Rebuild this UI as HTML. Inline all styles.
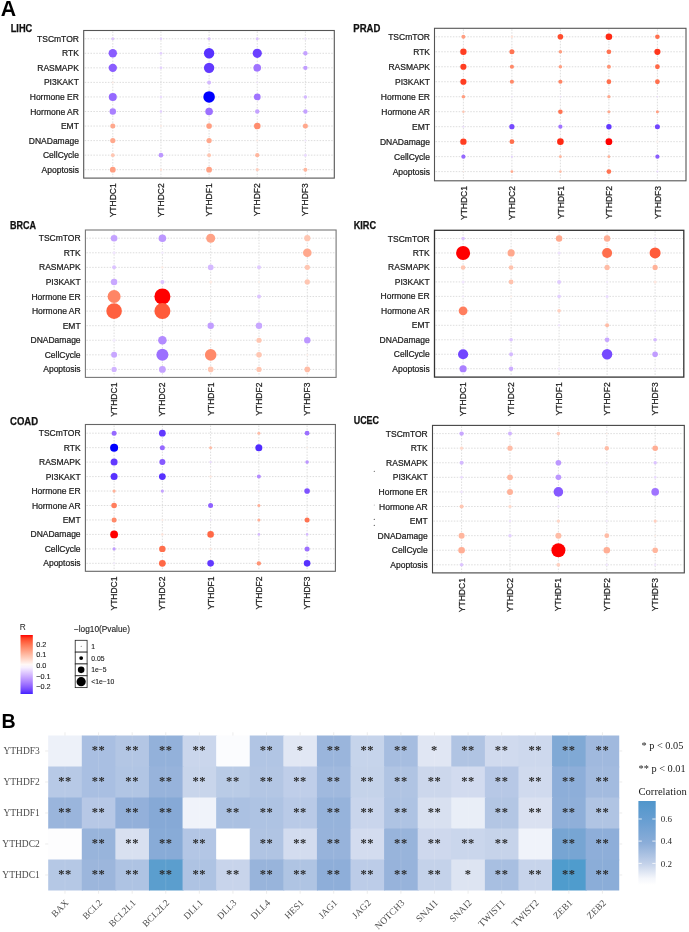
<!DOCTYPE html>
<html><head><meta charset="utf-8"><style>
html,body{margin:0;padding:0;background:#fff;width:689px;height:932px;overflow:hidden}
</style></head><body>
<svg width="689" height="932" viewBox="0 0 689 932" style="display:block;will-change:transform">
<rect width="689" height="932" fill="#fff"/>
<text x="0.8" y="15.5" font-family='"Liberation Sans", sans-serif' font-weight="bold" font-size="21.3" fill="#000">A</text>
<text x="1.5" y="727.5" font-family='"Liberation Sans", sans-serif' font-weight="bold" font-size="19.6" fill="#000">B</text>
<text x="10.7" y="32.2" font-family='"Liberation Sans", sans-serif' font-weight="bold" font-size="10.4" textLength="21.6" lengthAdjust="spacingAndGlyphs" fill="#111" stroke="#111" stroke-width="0.25">LIHC</text>
<path d="M84.7 38.75H333.3M84.7 53.30H333.3M84.7 67.85H333.3M84.7 82.40H333.3M84.7 96.95H333.3M84.7 111.50H333.3M84.7 126.05H333.3M84.7 140.60H333.3M84.7 155.15H333.3M84.7 169.70H333.3M112.80 31.5V177.1M160.95 31.5V177.1M209.10 31.5V177.1M257.25 31.5V177.1M305.40 31.5V177.1" stroke="#d9d9d9" stroke-width="0.9" stroke-dasharray="1.5 1.4" fill="none"/>
<circle cx="112.80" cy="38.75" r="1.5" fill="#dcc4ff"/>
<circle cx="160.95" cy="38.75" r="1.3" fill="#e3d0ff"/>
<circle cx="209.10" cy="38.75" r="1.5" fill="#dcc4ff"/>
<circle cx="257.25" cy="38.75" r="1.5" fill="#dcc4ff"/>
<circle cx="305.40" cy="38.75" r="1.2" fill="#efe3ff"/>
<circle cx="112.80" cy="53.30" r="4.2" fill="#8a5dff"/>
<circle cx="160.95" cy="53.30" r="1.4" fill="#e3d0ff"/>
<circle cx="209.10" cy="53.30" r="5.2" fill="#5731ff"/>
<circle cx="257.25" cy="53.30" r="4.6" fill="#6b40ff"/>
<circle cx="305.40" cy="53.30" r="2.2" fill="#c4a2ff"/>
<circle cx="112.80" cy="67.85" r="4.2" fill="#8a5dff"/>
<circle cx="160.95" cy="67.85" r="1.4" fill="#e3d0ff"/>
<circle cx="209.10" cy="67.85" r="5.2" fill="#6239ff"/>
<circle cx="257.25" cy="67.85" r="3.8" fill="#a074ff"/>
<circle cx="305.40" cy="67.85" r="2.2" fill="#c19dff"/>
<circle cx="112.80" cy="82.40" r="1.0" fill="#ffece5"/>
<circle cx="209.10" cy="82.40" r="2.0" fill="#d4b9ff"/>
<circle cx="257.25" cy="82.40" r="0.8" fill="#f2e7ff"/>
<circle cx="112.80" cy="96.95" r="4.0" fill="#9569ff"/>
<circle cx="160.95" cy="96.95" r="1.3" fill="#ebdcff"/>
<circle cx="209.10" cy="96.95" r="5.8" fill="#0000ff"/>
<circle cx="257.25" cy="96.95" r="3.4" fill="#a074ff"/>
<circle cx="305.40" cy="96.95" r="1.8" fill="#d4b9ff"/>
<circle cx="112.80" cy="111.50" r="3.2" fill="#aa80ff"/>
<circle cx="160.95" cy="111.50" r="1.3" fill="#e3d0ff"/>
<circle cx="209.10" cy="111.50" r="3.8" fill="#9c70ff"/>
<circle cx="257.25" cy="111.50" r="2.2" fill="#c4a2ff"/>
<circle cx="305.40" cy="111.50" r="2.2" fill="#c4a2ff"/>
<circle cx="112.80" cy="126.05" r="2.5" fill="#ffa88d"/>
<circle cx="160.95" cy="126.05" r="1.0" fill="#ffece5"/>
<circle cx="209.10" cy="126.05" r="2.8" fill="#ff9e81"/>
<circle cx="257.25" cy="126.05" r="3.3" fill="#ff8d6e"/>
<circle cx="305.40" cy="126.05" r="2.5" fill="#ffa88d"/>
<circle cx="112.80" cy="140.60" r="2.6" fill="#ffa88d"/>
<circle cx="209.10" cy="140.60" r="2.6" fill="#ffa88d"/>
<circle cx="257.25" cy="140.60" r="1.0" fill="#ffece5"/>
<circle cx="305.40" cy="140.60" r="1.0" fill="#f2e7ff"/>
<circle cx="112.80" cy="155.15" r="1.9" fill="#ffc6b2"/>
<circle cx="160.95" cy="155.15" r="2.3" fill="#bc97ff"/>
<circle cx="209.10" cy="155.15" r="1.9" fill="#ffc6b2"/>
<circle cx="257.25" cy="155.15" r="2.1" fill="#ffb69e"/>
<circle cx="305.40" cy="155.15" r="1.5" fill="#ebdcff"/>
<circle cx="112.80" cy="169.70" r="2.9" fill="#ff9e81"/>
<circle cx="160.95" cy="169.70" r="1.2" fill="#ffe2d8"/>
<circle cx="209.10" cy="169.70" r="2.9" fill="#ffa286"/>
<circle cx="257.25" cy="169.70" r="1.6" fill="#ffcfbf"/>
<circle cx="305.40" cy="169.70" r="2.0" fill="#ffb69e"/>
<rect x="83.7" y="30.5" width="250.60" height="147.60" fill="none" stroke="#555" stroke-width="1.1"/>
<text x="78.90" y="41.80" text-anchor="end" font-family='"Liberation Sans", sans-serif' font-size="8.5" fill="#1a1a1a" stroke="#1a1a1a" stroke-width="0.22">TSCmTOR</text>
<text x="78.90" y="56.35" text-anchor="end" font-family='"Liberation Sans", sans-serif' font-size="8.5" fill="#1a1a1a" stroke="#1a1a1a" stroke-width="0.22">RTK</text>
<text x="78.90" y="70.90" text-anchor="end" font-family='"Liberation Sans", sans-serif' font-size="8.5" fill="#1a1a1a" stroke="#1a1a1a" stroke-width="0.22">RASMAPK</text>
<text x="78.90" y="85.45" text-anchor="end" font-family='"Liberation Sans", sans-serif' font-size="8.5" fill="#1a1a1a" stroke="#1a1a1a" stroke-width="0.22">PI3KAKT</text>
<text x="78.90" y="100.00" text-anchor="end" font-family='"Liberation Sans", sans-serif' font-size="8.5" fill="#1a1a1a" stroke="#1a1a1a" stroke-width="0.22">Hormone ER</text>
<text x="78.90" y="114.55" text-anchor="end" font-family='"Liberation Sans", sans-serif' font-size="8.5" fill="#1a1a1a" stroke="#1a1a1a" stroke-width="0.22">Hormone AR</text>
<text x="78.90" y="129.10" text-anchor="end" font-family='"Liberation Sans", sans-serif' font-size="8.5" fill="#1a1a1a" stroke="#1a1a1a" stroke-width="0.22">EMT</text>
<text x="78.90" y="143.65" text-anchor="end" font-family='"Liberation Sans", sans-serif' font-size="8.5" fill="#1a1a1a" stroke="#1a1a1a" stroke-width="0.22">DNADamage</text>
<text x="78.90" y="158.20" text-anchor="end" font-family='"Liberation Sans", sans-serif' font-size="8.5" fill="#1a1a1a" stroke="#1a1a1a" stroke-width="0.22">CellCycle</text>
<text x="78.90" y="172.75" text-anchor="end" font-family='"Liberation Sans", sans-serif' font-size="8.5" fill="#1a1a1a" stroke="#1a1a1a" stroke-width="0.22">Apoptosis</text>
<text x="115.90" y="183.30" text-anchor="end" transform="rotate(-90 115.90 183.30)" font-family='"Liberation Sans", sans-serif' font-size="8.5" fill="#1a1a1a" stroke="#1a1a1a" stroke-width="0.22">YTHDC1</text>
<text x="164.05" y="183.30" text-anchor="end" transform="rotate(-90 164.05 183.30)" font-family='"Liberation Sans", sans-serif' font-size="8.5" fill="#1a1a1a" stroke="#1a1a1a" stroke-width="0.22">YTHDC2</text>
<text x="212.20" y="183.30" text-anchor="end" transform="rotate(-90 212.20 183.30)" font-family='"Liberation Sans", sans-serif' font-size="8.5" fill="#1a1a1a" stroke="#1a1a1a" stroke-width="0.22">YTHDF1</text>
<text x="260.35" y="183.30" text-anchor="end" transform="rotate(-90 260.35 183.30)" font-family='"Liberation Sans", sans-serif' font-size="8.5" fill="#1a1a1a" stroke="#1a1a1a" stroke-width="0.22">YTHDF2</text>
<text x="308.50" y="183.30" text-anchor="end" transform="rotate(-90 308.50 183.30)" font-family='"Liberation Sans", sans-serif' font-size="8.5" fill="#1a1a1a" stroke="#1a1a1a" stroke-width="0.22">YTHDF3</text>
<text x="353.3" y="32.1" font-family='"Liberation Sans", sans-serif' font-weight="bold" font-size="10.4" textLength="27.1" lengthAdjust="spacingAndGlyphs" fill="#111" stroke="#111" stroke-width="0.25">PRAD</text>
<path d="M435.5 36.80H685.0M435.5 51.78H685.0M435.5 66.76H685.0M435.5 81.74H685.0M435.5 96.72H685.0M435.5 111.70H685.0M435.5 126.68H685.0M435.5 141.66H685.0M435.5 156.64H685.0M435.5 171.62H685.0M463.40 29.3V179.8M511.90 29.3V179.8M560.40 29.3V179.8M608.90 29.3V179.8M657.40 29.3V179.8" stroke="#d9d9d9" stroke-width="0.9" stroke-dasharray="1.5 1.4" fill="none"/>
<circle cx="463.40" cy="36.80" r="2.0" fill="#ff9e81"/>
<circle cx="511.90" cy="36.80" r="1.2" fill="#ffe2d8"/>
<circle cx="560.40" cy="36.80" r="2.8" fill="#ff4d2e"/>
<circle cx="608.90" cy="36.80" r="3.3" fill="#ff2913"/>
<circle cx="657.40" cy="36.80" r="2.3" fill="#ff6f4d"/>
<circle cx="463.40" cy="51.78" r="3.2" fill="#ff3e22"/>
<circle cx="511.90" cy="51.78" r="2.5" fill="#ff7352"/>
<circle cx="560.40" cy="51.78" r="1.8" fill="#ff9e81"/>
<circle cx="608.90" cy="51.78" r="2.4" fill="#ff7352"/>
<circle cx="657.40" cy="51.78" r="3.1" fill="#ff361c"/>
<circle cx="463.40" cy="66.76" r="3.1" fill="#ff3e22"/>
<circle cx="511.90" cy="66.76" r="2.1" fill="#ff8969"/>
<circle cx="560.40" cy="66.76" r="1.8" fill="#ff9e81"/>
<circle cx="608.90" cy="66.76" r="2.0" fill="#ff9475"/>
<circle cx="657.40" cy="66.76" r="2.4" fill="#ff6846"/>
<circle cx="463.40" cy="81.74" r="3.1" fill="#ff3e22"/>
<circle cx="511.90" cy="81.74" r="2.1" fill="#ff8969"/>
<circle cx="560.40" cy="81.74" r="2.1" fill="#ff8565"/>
<circle cx="608.90" cy="81.74" r="2.4" fill="#ff6f4d"/>
<circle cx="657.40" cy="81.74" r="2.4" fill="#ff6f4d"/>
<circle cx="463.40" cy="96.72" r="1.8" fill="#ff9e81"/>
<circle cx="511.90" cy="96.72" r="0.8" fill="#f2e7ff"/>
<circle cx="560.40" cy="96.72" r="0.8" fill="#ebdcff"/>
<circle cx="608.90" cy="96.72" r="1.6" fill="#ffa88d"/>
<circle cx="657.40" cy="96.72" r="0.8" fill="#ebdcff"/>
<circle cx="463.40" cy="111.70" r="1.2" fill="#ffc6b2"/>
<circle cx="511.90" cy="111.70" r="0.8" fill="#f2e7ff"/>
<circle cx="560.40" cy="111.70" r="2.3" fill="#ff7352"/>
<circle cx="608.90" cy="111.70" r="1.5" fill="#ffa88d"/>
<circle cx="657.40" cy="111.70" r="1.5" fill="#ff9e81"/>
<circle cx="463.40" cy="126.68" r="1.0" fill="#ebdcff"/>
<circle cx="511.90" cy="126.68" r="2.6" fill="#764aff"/>
<circle cx="560.40" cy="126.68" r="2.1" fill="#a074ff"/>
<circle cx="608.90" cy="126.68" r="2.7" fill="#6239ff"/>
<circle cx="657.40" cy="126.68" r="2.5" fill="#7145ff"/>
<circle cx="463.40" cy="141.66" r="3.2" fill="#ff3e22"/>
<circle cx="511.90" cy="141.66" r="2.4" fill="#ff6f4d"/>
<circle cx="560.40" cy="141.66" r="3.3" fill="#ff2913"/>
<circle cx="608.90" cy="141.66" r="3.4" fill="#ff0000"/>
<circle cx="657.40" cy="141.66" r="1.2" fill="#fff5f2"/>
<circle cx="463.40" cy="156.64" r="2.1" fill="#9569ff"/>
<circle cx="511.90" cy="156.64" r="1.0" fill="#e3d0ff"/>
<circle cx="560.40" cy="156.64" r="1.4" fill="#ffb299"/>
<circle cx="608.90" cy="156.64" r="1.4" fill="#ffb299"/>
<circle cx="657.40" cy="156.64" r="2.1" fill="#8a5dff"/>
<circle cx="463.40" cy="171.62" r="0.7" fill="#ffece5"/>
<circle cx="511.90" cy="171.62" r="1.4" fill="#ffa88d"/>
<circle cx="560.40" cy="171.62" r="1.3" fill="#ffbca6"/>
<circle cx="608.90" cy="171.62" r="2.4" fill="#ff7352"/>
<circle cx="657.40" cy="171.62" r="1.0" fill="#ebdcff"/>
<rect x="434.5" y="28.3" width="251.50" height="152.50" fill="none" stroke="#555" stroke-width="1.1"/>
<text x="430.00" y="39.85" text-anchor="end" font-family='"Liberation Sans", sans-serif' font-size="8.5" fill="#1a1a1a" stroke="#1a1a1a" stroke-width="0.22">TSCmTOR</text>
<text x="430.00" y="54.83" text-anchor="end" font-family='"Liberation Sans", sans-serif' font-size="8.5" fill="#1a1a1a" stroke="#1a1a1a" stroke-width="0.22">RTK</text>
<text x="430.00" y="69.81" text-anchor="end" font-family='"Liberation Sans", sans-serif' font-size="8.5" fill="#1a1a1a" stroke="#1a1a1a" stroke-width="0.22">RASMAPK</text>
<text x="430.00" y="84.79" text-anchor="end" font-family='"Liberation Sans", sans-serif' font-size="8.5" fill="#1a1a1a" stroke="#1a1a1a" stroke-width="0.22">PI3KAKT</text>
<text x="430.00" y="99.77" text-anchor="end" font-family='"Liberation Sans", sans-serif' font-size="8.5" fill="#1a1a1a" stroke="#1a1a1a" stroke-width="0.22">Hormone ER</text>
<text x="430.00" y="114.75" text-anchor="end" font-family='"Liberation Sans", sans-serif' font-size="8.5" fill="#1a1a1a" stroke="#1a1a1a" stroke-width="0.22">Hormone AR</text>
<text x="430.00" y="129.73" text-anchor="end" font-family='"Liberation Sans", sans-serif' font-size="8.5" fill="#1a1a1a" stroke="#1a1a1a" stroke-width="0.22">EMT</text>
<text x="430.00" y="144.71" text-anchor="end" font-family='"Liberation Sans", sans-serif' font-size="8.5" fill="#1a1a1a" stroke="#1a1a1a" stroke-width="0.22">DNADamage</text>
<text x="430.00" y="159.69" text-anchor="end" font-family='"Liberation Sans", sans-serif' font-size="8.5" fill="#1a1a1a" stroke="#1a1a1a" stroke-width="0.22">CellCycle</text>
<text x="430.00" y="174.67" text-anchor="end" font-family='"Liberation Sans", sans-serif' font-size="8.5" fill="#1a1a1a" stroke="#1a1a1a" stroke-width="0.22">Apoptosis</text>
<text x="466.50" y="186.00" text-anchor="end" transform="rotate(-90 466.50 186.00)" font-family='"Liberation Sans", sans-serif' font-size="8.5" fill="#1a1a1a" stroke="#1a1a1a" stroke-width="0.22">YTHDC1</text>
<text x="515.00" y="186.00" text-anchor="end" transform="rotate(-90 515.00 186.00)" font-family='"Liberation Sans", sans-serif' font-size="8.5" fill="#1a1a1a" stroke="#1a1a1a" stroke-width="0.22">YTHDC2</text>
<text x="563.50" y="186.00" text-anchor="end" transform="rotate(-90 563.50 186.00)" font-family='"Liberation Sans", sans-serif' font-size="8.5" fill="#1a1a1a" stroke="#1a1a1a" stroke-width="0.22">YTHDF1</text>
<text x="612.00" y="186.00" text-anchor="end" transform="rotate(-90 612.00 186.00)" font-family='"Liberation Sans", sans-serif' font-size="8.5" fill="#1a1a1a" stroke="#1a1a1a" stroke-width="0.22">YTHDF2</text>
<text x="660.50" y="186.00" text-anchor="end" transform="rotate(-90 660.50 186.00)" font-family='"Liberation Sans", sans-serif' font-size="8.5" fill="#1a1a1a" stroke="#1a1a1a" stroke-width="0.22">YTHDF3</text>
<text x="10.0" y="229.0" font-family='"Liberation Sans", sans-serif' font-weight="bold" font-size="10.4" textLength="26.1" lengthAdjust="spacingAndGlyphs" fill="#111" stroke="#111" stroke-width="0.25">BRCA</text>
<path d="M86.4 238.20H335.1M86.4 252.78H335.1M86.4 267.36H335.1M86.4 281.94H335.1M86.4 296.52H335.1M86.4 311.10H335.1M86.4 325.68H335.1M86.4 340.26H335.1M86.4 354.84H335.1M86.4 369.42H335.1M114.10 231.0V376.4M162.40 231.0V376.4M210.70 231.0V376.4M259.00 231.0V376.4M307.30 231.0V376.4" stroke="#d9d9d9" stroke-width="0.9" stroke-dasharray="1.5 1.4" fill="none"/>
<circle cx="114.10" cy="238.20" r="3.3" fill="#c4a2ff"/>
<circle cx="162.40" cy="238.20" r="3.8" fill="#bc97ff"/>
<circle cx="210.70" cy="238.20" r="4.5" fill="#ffa286"/>
<circle cx="307.30" cy="238.20" r="3.1" fill="#ffc6b2"/>
<circle cx="114.10" cy="252.78" r="1.5" fill="#f2e7ff"/>
<circle cx="162.40" cy="252.78" r="1.3" fill="#f4ecff"/>
<circle cx="307.30" cy="252.78" r="4.3" fill="#ffa88d"/>
<circle cx="114.10" cy="267.36" r="2.0" fill="#dcc4ff"/>
<circle cx="162.40" cy="267.36" r="1.2" fill="#ffece5"/>
<circle cx="210.70" cy="267.36" r="2.9" fill="#d4b9ff"/>
<circle cx="259.00" cy="267.36" r="2.0" fill="#e0cbff"/>
<circle cx="307.30" cy="267.36" r="2.6" fill="#ffc6b2"/>
<circle cx="114.10" cy="281.94" r="3.2" fill="#c8a7ff"/>
<circle cx="162.40" cy="281.94" r="2.0" fill="#dcc4ff"/>
<circle cx="210.70" cy="281.94" r="1.5" fill="#ffece5"/>
<circle cx="259.00" cy="281.94" r="1.0" fill="#fff0ea"/>
<circle cx="307.30" cy="281.94" r="2.6" fill="#ffc6b2"/>
<circle cx="114.10" cy="296.52" r="6.5" fill="#ff8565"/>
<circle cx="162.40" cy="296.52" r="8.0" fill="#ff0000"/>
<circle cx="259.00" cy="296.52" r="2.0" fill="#dcc4ff"/>
<circle cx="114.10" cy="311.10" r="7.8" fill="#ff603f"/>
<circle cx="162.40" cy="311.10" r="8.0" fill="#ff5b3a"/>
<circle cx="210.70" cy="311.10" r="1.0" fill="#fff0ea"/>
<circle cx="259.00" cy="311.10" r="1.0" fill="#f2e7ff"/>
<circle cx="307.30" cy="311.10" r="0.8" fill="#f4ecff"/>
<circle cx="210.70" cy="325.68" r="3.2" fill="#c19dff"/>
<circle cx="259.00" cy="325.68" r="3.2" fill="#c8a7ff"/>
<circle cx="114.10" cy="340.26" r="1.5" fill="#f4ecff"/>
<circle cx="162.40" cy="340.26" r="4.3" fill="#b38bff"/>
<circle cx="210.70" cy="340.26" r="1.5" fill="#ffece5"/>
<circle cx="259.00" cy="340.26" r="2.6" fill="#ffc6b2"/>
<circle cx="307.30" cy="340.26" r="3.2" fill="#bc97ff"/>
<circle cx="114.10" cy="354.84" r="3.0" fill="#c8a7ff"/>
<circle cx="162.40" cy="354.84" r="6.0" fill="#9c70ff"/>
<circle cx="210.70" cy="354.84" r="5.8" fill="#ff8969"/>
<circle cx="259.00" cy="354.84" r="2.8" fill="#ffc6b2"/>
<circle cx="307.30" cy="354.84" r="1.0" fill="#fff0ea"/>
<circle cx="114.10" cy="369.42" r="2.6" fill="#d1b4ff"/>
<circle cx="162.40" cy="369.42" r="3.4" fill="#c4a2ff"/>
<circle cx="210.70" cy="369.42" r="2.8" fill="#ffc6b2"/>
<circle cx="259.00" cy="369.42" r="2.6" fill="#ffc6b2"/>
<circle cx="307.30" cy="369.42" r="2.8" fill="#ffbca6"/>
<rect x="85.4" y="230.0" width="250.70" height="147.40" fill="none" stroke="#777" stroke-width="1.1"/>
<text x="80.60" y="241.25" text-anchor="end" font-family='"Liberation Sans", sans-serif' font-size="8.5" fill="#1a1a1a" stroke="#1a1a1a" stroke-width="0.22">TSCmTOR</text>
<text x="80.60" y="255.83" text-anchor="end" font-family='"Liberation Sans", sans-serif' font-size="8.5" fill="#1a1a1a" stroke="#1a1a1a" stroke-width="0.22">RTK</text>
<text x="80.60" y="270.41" text-anchor="end" font-family='"Liberation Sans", sans-serif' font-size="8.5" fill="#1a1a1a" stroke="#1a1a1a" stroke-width="0.22">RASMAPK</text>
<text x="80.60" y="284.99" text-anchor="end" font-family='"Liberation Sans", sans-serif' font-size="8.5" fill="#1a1a1a" stroke="#1a1a1a" stroke-width="0.22">PI3KAKT</text>
<text x="80.60" y="299.57" text-anchor="end" font-family='"Liberation Sans", sans-serif' font-size="8.5" fill="#1a1a1a" stroke="#1a1a1a" stroke-width="0.22">Hormone ER</text>
<text x="80.60" y="314.15" text-anchor="end" font-family='"Liberation Sans", sans-serif' font-size="8.5" fill="#1a1a1a" stroke="#1a1a1a" stroke-width="0.22">Hormone AR</text>
<text x="80.60" y="328.73" text-anchor="end" font-family='"Liberation Sans", sans-serif' font-size="8.5" fill="#1a1a1a" stroke="#1a1a1a" stroke-width="0.22">EMT</text>
<text x="80.60" y="343.31" text-anchor="end" font-family='"Liberation Sans", sans-serif' font-size="8.5" fill="#1a1a1a" stroke="#1a1a1a" stroke-width="0.22">DNADamage</text>
<text x="80.60" y="357.89" text-anchor="end" font-family='"Liberation Sans", sans-serif' font-size="8.5" fill="#1a1a1a" stroke="#1a1a1a" stroke-width="0.22">CellCycle</text>
<text x="80.60" y="372.47" text-anchor="end" font-family='"Liberation Sans", sans-serif' font-size="8.5" fill="#1a1a1a" stroke="#1a1a1a" stroke-width="0.22">Apoptosis</text>
<text x="117.20" y="382.60" text-anchor="end" transform="rotate(-90 117.20 382.60)" font-family='"Liberation Sans", sans-serif' font-size="8.5" fill="#1a1a1a" stroke="#1a1a1a" stroke-width="0.22">YTHDC1</text>
<text x="165.50" y="382.60" text-anchor="end" transform="rotate(-90 165.50 382.60)" font-family='"Liberation Sans", sans-serif' font-size="8.5" fill="#1a1a1a" stroke="#1a1a1a" stroke-width="0.22">YTHDC2</text>
<text x="213.80" y="382.60" text-anchor="end" transform="rotate(-90 213.80 382.60)" font-family='"Liberation Sans", sans-serif' font-size="8.5" fill="#1a1a1a" stroke="#1a1a1a" stroke-width="0.22">YTHDF1</text>
<text x="262.10" y="382.60" text-anchor="end" transform="rotate(-90 262.10 382.60)" font-family='"Liberation Sans", sans-serif' font-size="8.5" fill="#1a1a1a" stroke="#1a1a1a" stroke-width="0.22">YTHDF2</text>
<text x="310.40" y="382.60" text-anchor="end" transform="rotate(-90 310.40 382.60)" font-family='"Liberation Sans", sans-serif' font-size="8.5" fill="#1a1a1a" stroke="#1a1a1a" stroke-width="0.22">YTHDF3</text>
<text x="353.7" y="228.9" font-family='"Liberation Sans", sans-serif' font-weight="bold" font-size="10.4" textLength="22.400000000000002" lengthAdjust="spacingAndGlyphs" fill="#111" stroke="#111" stroke-width="0.25">KIRC</text>
<path d="M435.5 238.50H682.8M435.5 252.97H682.8M435.5 267.44H682.8M435.5 281.91H682.8M435.5 296.38H682.8M435.5 310.85H682.8M435.5 325.32H682.8M435.5 339.79H682.8M435.5 354.26H682.8M435.5 368.73H682.8M463.10 231.3V376.1M511.10 231.3V376.1M559.10 231.3V376.1M607.10 231.3V376.1M655.10 231.3V376.1" stroke="#d9d9d9" stroke-width="0.9" stroke-dasharray="1.5 1.4" fill="none"/>
<circle cx="463.10" cy="238.50" r="1.8" fill="#dcc4ff"/>
<circle cx="511.10" cy="238.50" r="0.8" fill="#fff5f2"/>
<circle cx="559.10" cy="238.50" r="3.2" fill="#ffa88d"/>
<circle cx="607.10" cy="238.50" r="3.2" fill="#ffae95"/>
<circle cx="655.10" cy="238.50" r="1.0" fill="#f2e7ff"/>
<circle cx="463.10" cy="252.97" r="7.0" fill="#ff0000"/>
<circle cx="511.10" cy="252.97" r="3.6" fill="#ffa88d"/>
<circle cx="559.10" cy="252.97" r="1.5" fill="#efe3ff"/>
<circle cx="607.10" cy="252.97" r="5.0" fill="#ff6f4d"/>
<circle cx="655.10" cy="252.97" r="5.5" fill="#ff5b3a"/>
<circle cx="463.10" cy="267.44" r="2.3" fill="#ffc6b2"/>
<circle cx="511.10" cy="267.44" r="2.3" fill="#ffc2ad"/>
<circle cx="607.10" cy="267.44" r="2.6" fill="#ffbca6"/>
<circle cx="655.10" cy="267.44" r="2.6" fill="#ffb299"/>
<circle cx="463.10" cy="281.91" r="1.5" fill="#f2e7ff"/>
<circle cx="511.10" cy="281.91" r="2.4" fill="#ffc2ad"/>
<circle cx="559.10" cy="281.91" r="2.0" fill="#e0cbff"/>
<circle cx="607.10" cy="281.91" r="1.0" fill="#f4ecff"/>
<circle cx="655.10" cy="281.91" r="1.5" fill="#ffe8e0"/>
<circle cx="463.10" cy="296.38" r="1.0" fill="#f4ecff"/>
<circle cx="511.10" cy="296.38" r="1.0" fill="#fff0ea"/>
<circle cx="559.10" cy="296.38" r="1.8" fill="#e3d0ff"/>
<circle cx="607.10" cy="296.38" r="1.5" fill="#ebdcff"/>
<circle cx="463.10" cy="310.85" r="4.4" fill="#ff7e5e"/>
<circle cx="511.10" cy="310.85" r="1.0" fill="#fff4ef"/>
<circle cx="559.10" cy="310.85" r="1.8" fill="#ffcfbf"/>
<circle cx="607.10" cy="310.85" r="1.0" fill="#f4ecff"/>
<circle cx="655.10" cy="310.85" r="1.0" fill="#f4ecff"/>
<circle cx="559.10" cy="325.32" r="1.2" fill="#f2e7ff"/>
<circle cx="607.10" cy="325.32" r="2.0" fill="#ffbca6"/>
<circle cx="463.10" cy="339.79" r="1.2" fill="#f7f1ff"/>
<circle cx="511.10" cy="339.79" r="1.8" fill="#dcc4ff"/>
<circle cx="607.10" cy="339.79" r="2.4" fill="#c8a7ff"/>
<circle cx="655.10" cy="339.79" r="1.8" fill="#d4b9ff"/>
<circle cx="463.10" cy="354.26" r="5.1" fill="#7145ff"/>
<circle cx="511.10" cy="354.26" r="2.0" fill="#d4b9ff"/>
<circle cx="607.10" cy="354.26" r="5.2" fill="#764aff"/>
<circle cx="655.10" cy="354.26" r="2.8" fill="#c19dff"/>
<circle cx="463.10" cy="368.73" r="3.6" fill="#aa80ff"/>
<circle cx="511.10" cy="368.73" r="2.2" fill="#ccadff"/>
<circle cx="559.10" cy="368.73" r="1.2" fill="#f4ecff"/>
<circle cx="655.10" cy="368.73" r="1.0" fill="#f7f1ff"/>
<rect x="434.5" y="230.3" width="249.30" height="146.80" fill="none" stroke="#333" stroke-width="1.3"/>
<text x="429.70" y="241.55" text-anchor="end" font-family='"Liberation Sans", sans-serif' font-size="8.5" fill="#1a1a1a" stroke="#1a1a1a" stroke-width="0.22">TSCmTOR</text>
<text x="429.70" y="256.02" text-anchor="end" font-family='"Liberation Sans", sans-serif' font-size="8.5" fill="#1a1a1a" stroke="#1a1a1a" stroke-width="0.22">RTK</text>
<text x="429.70" y="270.49" text-anchor="end" font-family='"Liberation Sans", sans-serif' font-size="8.5" fill="#1a1a1a" stroke="#1a1a1a" stroke-width="0.22">RASMAPK</text>
<text x="429.70" y="284.96" text-anchor="end" font-family='"Liberation Sans", sans-serif' font-size="8.5" fill="#1a1a1a" stroke="#1a1a1a" stroke-width="0.22">PI3KAKT</text>
<text x="429.70" y="299.43" text-anchor="end" font-family='"Liberation Sans", sans-serif' font-size="8.5" fill="#1a1a1a" stroke="#1a1a1a" stroke-width="0.22">Hormone ER</text>
<text x="429.70" y="313.90" text-anchor="end" font-family='"Liberation Sans", sans-serif' font-size="8.5" fill="#1a1a1a" stroke="#1a1a1a" stroke-width="0.22">Hormone AR</text>
<text x="429.70" y="328.37" text-anchor="end" font-family='"Liberation Sans", sans-serif' font-size="8.5" fill="#1a1a1a" stroke="#1a1a1a" stroke-width="0.22">EMT</text>
<text x="429.70" y="342.84" text-anchor="end" font-family='"Liberation Sans", sans-serif' font-size="8.5" fill="#1a1a1a" stroke="#1a1a1a" stroke-width="0.22">DNADamage</text>
<text x="429.70" y="357.31" text-anchor="end" font-family='"Liberation Sans", sans-serif' font-size="8.5" fill="#1a1a1a" stroke="#1a1a1a" stroke-width="0.22">CellCycle</text>
<text x="429.70" y="371.78" text-anchor="end" font-family='"Liberation Sans", sans-serif' font-size="8.5" fill="#1a1a1a" stroke="#1a1a1a" stroke-width="0.22">Apoptosis</text>
<text x="466.20" y="382.30" text-anchor="end" transform="rotate(-90 466.20 382.30)" font-family='"Liberation Sans", sans-serif' font-size="8.5" fill="#1a1a1a" stroke="#1a1a1a" stroke-width="0.22">YTHDC1</text>
<text x="514.20" y="382.30" text-anchor="end" transform="rotate(-90 514.20 382.30)" font-family='"Liberation Sans", sans-serif' font-size="8.5" fill="#1a1a1a" stroke="#1a1a1a" stroke-width="0.22">YTHDC2</text>
<text x="562.20" y="382.30" text-anchor="end" transform="rotate(-90 562.20 382.30)" font-family='"Liberation Sans", sans-serif' font-size="8.5" fill="#1a1a1a" stroke="#1a1a1a" stroke-width="0.22">YTHDF1</text>
<text x="610.20" y="382.30" text-anchor="end" transform="rotate(-90 610.20 382.30)" font-family='"Liberation Sans", sans-serif' font-size="8.5" fill="#1a1a1a" stroke="#1a1a1a" stroke-width="0.22">YTHDF2</text>
<text x="658.20" y="382.30" text-anchor="end" transform="rotate(-90 658.20 382.30)" font-family='"Liberation Sans", sans-serif' font-size="8.5" fill="#1a1a1a" stroke="#1a1a1a" stroke-width="0.22">YTHDF3</text>
<text x="10.0" y="424.5" font-family='"Liberation Sans", sans-serif' font-weight="bold" font-size="10.4" textLength="28.1" lengthAdjust="spacingAndGlyphs" fill="#111" stroke="#111" stroke-width="0.25">COAD</text>
<path d="M86.4 433.20H334.4M86.4 447.66H334.4M86.4 462.12H334.4M86.4 476.58H334.4M86.4 491.04H334.4M86.4 505.50H334.4M86.4 519.96H334.4M86.4 534.42H334.4M86.4 548.88H334.4M86.4 563.34H334.4M114.10 425.5V570.3M162.35 425.5V570.3M210.60 425.5V570.3M258.85 425.5V570.3M307.10 425.5V570.3" stroke="#d9d9d9" stroke-width="0.9" stroke-dasharray="1.5 1.4" fill="none"/>
<circle cx="114.10" cy="433.20" r="2.5" fill="#9569ff"/>
<circle cx="162.35" cy="433.20" r="3.4" fill="#6239ff"/>
<circle cx="258.85" cy="433.20" r="1.5" fill="#ffbca6"/>
<circle cx="307.10" cy="433.20" r="2.4" fill="#9c70ff"/>
<circle cx="114.10" cy="447.66" r="4.0" fill="#0000ff"/>
<circle cx="162.35" cy="447.66" r="2.5" fill="#9569ff"/>
<circle cx="210.60" cy="447.66" r="1.5" fill="#ffbca6"/>
<circle cx="258.85" cy="447.66" r="3.5" fill="#502bff"/>
<circle cx="307.10" cy="447.66" r="0.8" fill="#fff0ea"/>
<circle cx="114.10" cy="462.12" r="3.5" fill="#6239ff"/>
<circle cx="162.35" cy="462.12" r="3.0" fill="#8659ff"/>
<circle cx="210.60" cy="462.12" r="1.2" fill="#ebdcff"/>
<circle cx="307.10" cy="462.12" r="1.8" fill="#bc97ff"/>
<circle cx="114.10" cy="476.58" r="3.5" fill="#5731ff"/>
<circle cx="162.35" cy="476.58" r="3.4" fill="#5731ff"/>
<circle cx="210.60" cy="476.58" r="1.2" fill="#ffe8e0"/>
<circle cx="258.85" cy="476.58" r="2.0" fill="#b38bff"/>
<circle cx="114.10" cy="491.04" r="1.6" fill="#ffb299"/>
<circle cx="162.35" cy="491.04" r="1.6" fill="#c4a2ff"/>
<circle cx="258.85" cy="491.04" r="1.0" fill="#ffece5"/>
<circle cx="307.10" cy="491.04" r="2.8" fill="#7e52ff"/>
<circle cx="114.10" cy="505.50" r="2.8" fill="#ff7e5e"/>
<circle cx="210.60" cy="505.50" r="2.5" fill="#8f62ff"/>
<circle cx="258.85" cy="505.50" r="1.5" fill="#ffae95"/>
<circle cx="114.10" cy="519.96" r="2.5" fill="#ff8969"/>
<circle cx="162.35" cy="519.96" r="1.0" fill="#ffece5"/>
<circle cx="210.60" cy="519.96" r="1.0" fill="#f2e7ff"/>
<circle cx="258.85" cy="519.96" r="1.5" fill="#ffae95"/>
<circle cx="307.10" cy="519.96" r="2.5" fill="#ff7352"/>
<circle cx="114.10" cy="534.42" r="3.9" fill="#ff0000"/>
<circle cx="162.35" cy="534.42" r="1.2" fill="#ffe2d8"/>
<circle cx="210.60" cy="534.42" r="3.3" fill="#ff6846"/>
<circle cx="258.85" cy="534.42" r="1.3" fill="#d4b9ff"/>
<circle cx="307.10" cy="534.42" r="1.3" fill="#d4b9ff"/>
<circle cx="114.10" cy="548.88" r="1.6" fill="#c19dff"/>
<circle cx="162.35" cy="548.88" r="3.2" fill="#ff6f4d"/>
<circle cx="210.60" cy="548.88" r="1.2" fill="#ffe8e0"/>
<circle cx="307.10" cy="548.88" r="2.5" fill="#9c70ff"/>
<circle cx="114.10" cy="563.34" r="1.0" fill="#f4ecff"/>
<circle cx="162.35" cy="563.34" r="3.4" fill="#ff6846"/>
<circle cx="210.60" cy="563.34" r="3.3" fill="#6239ff"/>
<circle cx="258.85" cy="563.34" r="2.2" fill="#ff9475"/>
<circle cx="307.10" cy="563.34" r="3.3" fill="#5731ff"/>
<rect x="85.4" y="424.5" width="250.00" height="146.80" fill="none" stroke="#666" stroke-width="1.1"/>
<text x="80.60" y="436.25" text-anchor="end" font-family='"Liberation Sans", sans-serif' font-size="8.5" fill="#1a1a1a" stroke="#1a1a1a" stroke-width="0.22">TSCmTOR</text>
<text x="80.60" y="450.71" text-anchor="end" font-family='"Liberation Sans", sans-serif' font-size="8.5" fill="#1a1a1a" stroke="#1a1a1a" stroke-width="0.22">RTK</text>
<text x="80.60" y="465.17" text-anchor="end" font-family='"Liberation Sans", sans-serif' font-size="8.5" fill="#1a1a1a" stroke="#1a1a1a" stroke-width="0.22">RASMAPK</text>
<text x="80.60" y="479.63" text-anchor="end" font-family='"Liberation Sans", sans-serif' font-size="8.5" fill="#1a1a1a" stroke="#1a1a1a" stroke-width="0.22">PI3KAKT</text>
<text x="80.60" y="494.09" text-anchor="end" font-family='"Liberation Sans", sans-serif' font-size="8.5" fill="#1a1a1a" stroke="#1a1a1a" stroke-width="0.22">Hormone ER</text>
<text x="80.60" y="508.55" text-anchor="end" font-family='"Liberation Sans", sans-serif' font-size="8.5" fill="#1a1a1a" stroke="#1a1a1a" stroke-width="0.22">Hormone AR</text>
<text x="80.60" y="523.01" text-anchor="end" font-family='"Liberation Sans", sans-serif' font-size="8.5" fill="#1a1a1a" stroke="#1a1a1a" stroke-width="0.22">EMT</text>
<text x="80.60" y="537.47" text-anchor="end" font-family='"Liberation Sans", sans-serif' font-size="8.5" fill="#1a1a1a" stroke="#1a1a1a" stroke-width="0.22">DNADamage</text>
<text x="80.60" y="551.93" text-anchor="end" font-family='"Liberation Sans", sans-serif' font-size="8.5" fill="#1a1a1a" stroke="#1a1a1a" stroke-width="0.22">CellCycle</text>
<text x="80.60" y="566.39" text-anchor="end" font-family='"Liberation Sans", sans-serif' font-size="8.5" fill="#1a1a1a" stroke="#1a1a1a" stroke-width="0.22">Apoptosis</text>
<text x="117.20" y="576.50" text-anchor="end" transform="rotate(-90 117.20 576.50)" font-family='"Liberation Sans", sans-serif' font-size="8.5" fill="#1a1a1a" stroke="#1a1a1a" stroke-width="0.22">YTHDC1</text>
<text x="165.45" y="576.50" text-anchor="end" transform="rotate(-90 165.45 576.50)" font-family='"Liberation Sans", sans-serif' font-size="8.5" fill="#1a1a1a" stroke="#1a1a1a" stroke-width="0.22">YTHDC2</text>
<text x="213.70" y="576.50" text-anchor="end" transform="rotate(-90 213.70 576.50)" font-family='"Liberation Sans", sans-serif' font-size="8.5" fill="#1a1a1a" stroke="#1a1a1a" stroke-width="0.22">YTHDF1</text>
<text x="261.95" y="576.50" text-anchor="end" transform="rotate(-90 261.95 576.50)" font-family='"Liberation Sans", sans-serif' font-size="8.5" fill="#1a1a1a" stroke="#1a1a1a" stroke-width="0.22">YTHDF2</text>
<text x="310.20" y="576.50" text-anchor="end" transform="rotate(-90 310.20 576.50)" font-family='"Liberation Sans", sans-serif' font-size="8.5" fill="#1a1a1a" stroke="#1a1a1a" stroke-width="0.22">YTHDF3</text>
<text x="353.7" y="424.2" font-family='"Liberation Sans", sans-serif' font-weight="bold" font-size="10.4" textLength="25.3" lengthAdjust="spacingAndGlyphs" fill="#111" stroke="#111" stroke-width="0.25">UCEC</text>
<path d="M433.5 433.60H683.3M433.5 448.18H683.3M433.5 462.76H683.3M433.5 477.34H683.3M433.5 491.92H683.3M433.5 506.50H683.3M433.5 521.08H683.3M433.5 535.66H683.3M433.5 550.24H683.3M433.5 564.82H683.3M461.60 426.4V571.9M510.00 426.4V571.9M558.40 426.4V571.9M606.80 426.4V571.9M655.20 426.4V571.9" stroke="#d9d9d9" stroke-width="0.9" stroke-dasharray="1.5 1.4" fill="none"/>
<circle cx="461.60" cy="433.60" r="2.2" fill="#c8a7ff"/>
<circle cx="510.00" cy="433.60" r="2.0" fill="#d1b4ff"/>
<circle cx="558.40" cy="433.60" r="1.8" fill="#ffc9b7"/>
<circle cx="606.80" cy="433.60" r="0.8" fill="#ffece5"/>
<circle cx="461.60" cy="448.18" r="1.6" fill="#ffd9cb"/>
<circle cx="510.00" cy="448.18" r="2.6" fill="#ffbca6"/>
<circle cx="606.80" cy="448.18" r="2.2" fill="#ffbca6"/>
<circle cx="655.20" cy="448.18" r="2.8" fill="#ffae95"/>
<circle cx="461.60" cy="462.76" r="2.0" fill="#d4b9ff"/>
<circle cx="558.40" cy="462.76" r="2.8" fill="#bc97ff"/>
<circle cx="606.80" cy="462.76" r="1.0" fill="#f2e7ff"/>
<circle cx="655.20" cy="462.76" r="1.7" fill="#dcc4ff"/>
<circle cx="461.60" cy="477.34" r="1.4" fill="#ebdcff"/>
<circle cx="510.00" cy="477.34" r="2.9" fill="#ffb69e"/>
<circle cx="558.40" cy="477.34" r="2.8" fill="#bc97ff"/>
<circle cx="655.20" cy="477.34" r="1.3" fill="#ebdcff"/>
<circle cx="461.60" cy="491.92" r="1.3" fill="#f2e7ff"/>
<circle cx="510.00" cy="491.92" r="3.0" fill="#ffb299"/>
<circle cx="558.40" cy="491.92" r="4.8" fill="#8659ff"/>
<circle cx="606.80" cy="491.92" r="1.0" fill="#f4ecff"/>
<circle cx="655.20" cy="491.92" r="3.8" fill="#a074ff"/>
<circle cx="461.60" cy="506.50" r="2.0" fill="#ffc6b2"/>
<circle cx="510.00" cy="506.50" r="1.6" fill="#ffd9cb"/>
<circle cx="558.40" cy="506.50" r="1.2" fill="#f2e7ff"/>
<circle cx="510.00" cy="521.08" r="1.2" fill="#efe3ff"/>
<circle cx="558.40" cy="521.08" r="1.7" fill="#ffd5c6"/>
<circle cx="606.80" cy="521.08" r="1.0" fill="#f4ecff"/>
<circle cx="655.20" cy="521.08" r="1.6" fill="#ffcfbf"/>
<circle cx="461.60" cy="535.66" r="3.0" fill="#ffb69e"/>
<circle cx="510.00" cy="535.66" r="1.7" fill="#e3d0ff"/>
<circle cx="558.40" cy="535.66" r="3.0" fill="#ffbca6"/>
<circle cx="606.80" cy="535.66" r="2.4" fill="#ffbca6"/>
<circle cx="655.20" cy="535.66" r="1.0" fill="#fff0ea"/>
<circle cx="461.60" cy="550.24" r="3.3" fill="#ffae95"/>
<circle cx="510.00" cy="550.24" r="1.0" fill="#f7f1ff"/>
<circle cx="558.40" cy="550.24" r="7.0" fill="#ff0000"/>
<circle cx="606.80" cy="550.24" r="3.3" fill="#ffae95"/>
<circle cx="655.20" cy="550.24" r="2.8" fill="#ffb69e"/>
<circle cx="461.60" cy="564.82" r="1.8" fill="#dcc4ff"/>
<circle cx="558.40" cy="564.82" r="1.9" fill="#ffcfbf"/>
<circle cx="606.80" cy="564.82" r="1.2" fill="#f2e7ff"/>
<circle cx="655.20" cy="564.82" r="1.2" fill="#f2e7ff"/>
<rect x="432.5" y="425.4" width="251.80" height="147.50" fill="none" stroke="#444" stroke-width="1.1"/>
<text x="427.70" y="436.65" text-anchor="end" font-family='"Liberation Sans", sans-serif' font-size="8.5" fill="#1a1a1a" stroke="#1a1a1a" stroke-width="0.22">TSCmTOR</text>
<text x="427.70" y="451.23" text-anchor="end" font-family='"Liberation Sans", sans-serif' font-size="8.5" fill="#1a1a1a" stroke="#1a1a1a" stroke-width="0.22">RTK</text>
<text x="427.70" y="465.81" text-anchor="end" font-family='"Liberation Sans", sans-serif' font-size="8.5" fill="#1a1a1a" stroke="#1a1a1a" stroke-width="0.22">RASMAPK</text>
<text x="427.70" y="480.39" text-anchor="end" font-family='"Liberation Sans", sans-serif' font-size="8.5" fill="#1a1a1a" stroke="#1a1a1a" stroke-width="0.22">PI3KAKT</text>
<text x="427.70" y="494.97" text-anchor="end" font-family='"Liberation Sans", sans-serif' font-size="8.5" fill="#1a1a1a" stroke="#1a1a1a" stroke-width="0.22">Hormone ER</text>
<text x="427.70" y="509.55" text-anchor="end" font-family='"Liberation Sans", sans-serif' font-size="8.5" fill="#1a1a1a" stroke="#1a1a1a" stroke-width="0.22">Hormone AR</text>
<text x="427.70" y="524.13" text-anchor="end" font-family='"Liberation Sans", sans-serif' font-size="8.5" fill="#1a1a1a" stroke="#1a1a1a" stroke-width="0.22">EMT</text>
<text x="427.70" y="538.71" text-anchor="end" font-family='"Liberation Sans", sans-serif' font-size="8.5" fill="#1a1a1a" stroke="#1a1a1a" stroke-width="0.22">DNADamage</text>
<text x="427.70" y="553.29" text-anchor="end" font-family='"Liberation Sans", sans-serif' font-size="8.5" fill="#1a1a1a" stroke="#1a1a1a" stroke-width="0.22">CellCycle</text>
<text x="427.70" y="567.87" text-anchor="end" font-family='"Liberation Sans", sans-serif' font-size="8.5" fill="#1a1a1a" stroke="#1a1a1a" stroke-width="0.22">Apoptosis</text>
<text x="464.70" y="578.10" text-anchor="end" transform="rotate(-90 464.70 578.10)" font-family='"Liberation Sans", sans-serif' font-size="8.5" fill="#1a1a1a" stroke="#1a1a1a" stroke-width="0.22">YTHDC1</text>
<text x="513.10" y="578.10" text-anchor="end" transform="rotate(-90 513.10 578.10)" font-family='"Liberation Sans", sans-serif' font-size="8.5" fill="#1a1a1a" stroke="#1a1a1a" stroke-width="0.22">YTHDC2</text>
<text x="561.50" y="578.10" text-anchor="end" transform="rotate(-90 561.50 578.10)" font-family='"Liberation Sans", sans-serif' font-size="8.5" fill="#1a1a1a" stroke="#1a1a1a" stroke-width="0.22">YTHDF1</text>
<text x="609.90" y="578.10" text-anchor="end" transform="rotate(-90 609.90 578.10)" font-family='"Liberation Sans", sans-serif' font-size="8.5" fill="#1a1a1a" stroke="#1a1a1a" stroke-width="0.22">YTHDF2</text>
<text x="658.30" y="578.10" text-anchor="end" transform="rotate(-90 658.30 578.10)" font-family='"Liberation Sans", sans-serif' font-size="8.5" fill="#1a1a1a" stroke="#1a1a1a" stroke-width="0.22">YTHDF3</text>
<circle cx="374.3" cy="471.3" r="0.6" fill="#333" fill-opacity="0.8"/>
<circle cx="374.3" cy="505.1" r="0.6" fill="#333" fill-opacity="0.35"/>
<circle cx="374.3" cy="519.4" r="0.6" fill="#333" fill-opacity="0.8"/>
<circle cx="374.3" cy="525.4" r="0.6" fill="#333" fill-opacity="0.8"/>
<defs><linearGradient id="gR" x1="0" y1="1" x2="0" y2="0">
<stop offset="0.000" stop-color="#4221ff"/>
<stop offset="0.050" stop-color="#673dff"/>
<stop offset="0.100" stop-color="#8154ff"/>
<stop offset="0.150" stop-color="#976bff"/>
<stop offset="0.200" stop-color="#ab81ff"/>
<stop offset="0.250" stop-color="#bc97ff"/>
<stop offset="0.300" stop-color="#ccadff"/>
<stop offset="0.350" stop-color="#dbc3ff"/>
<stop offset="0.400" stop-color="#e9daff"/>
<stop offset="0.450" stop-color="#f7f0ff"/>
<stop offset="0.500" stop-color="#fff8f6"/>
<stop offset="0.550" stop-color="#ffe6dd"/>
<stop offset="0.600" stop-color="#ffd3c4"/>
<stop offset="0.650" stop-color="#ffc1ac"/>
<stop offset="0.700" stop-color="#ffae94"/>
<stop offset="0.750" stop-color="#ff9a7d"/>
<stop offset="0.800" stop-color="#ff8666"/>
<stop offset="0.850" stop-color="#ff714f"/>
<stop offset="0.900" stop-color="#ff5939"/>
<stop offset="0.950" stop-color="#ff3c21"/>
<stop offset="1.000" stop-color="#ff0000"/>
</linearGradient>
<linearGradient id="gB" x1="0" y1="1" x2="0" y2="0">
<stop offset="0.000" stop-color="#ffffff"/>
<stop offset="0.080" stop-color="#f4f6fb"/>
<stop offset="0.250" stop-color="#c4d2ea"/>
<stop offset="0.500" stop-color="#8badd8"/>
<stop offset="0.750" stop-color="#6a9fd2"/>
<stop offset="1.000" stop-color="#5096cb"/>
</linearGradient></defs>
<text x="19.8" y="629.9" font-family='"Liberation Sans", sans-serif' font-size="8.4" fill="#222">R</text>
<rect x="20.5" y="635" width="12.3" height="59" fill="url(#gR)"/>
<text x="36.2" y="647.0" font-family='"Liberation Sans", sans-serif' font-size="7.3" fill="#222" stroke="#222" stroke-width="0.12">0.2</text>
<text x="36.2" y="657.3" font-family='"Liberation Sans", sans-serif' font-size="7.3" fill="#222" stroke="#222" stroke-width="0.12">0.1</text>
<text x="36.2" y="667.9" font-family='"Liberation Sans", sans-serif' font-size="7.3" fill="#222" stroke="#222" stroke-width="0.12">0.0</text>
<text x="36.2" y="678.6" font-family='"Liberation Sans", sans-serif' font-size="7.3" fill="#222" stroke="#222" stroke-width="0.12">−0.1</text>
<text x="36.2" y="689.2" font-family='"Liberation Sans", sans-serif' font-size="7.3" fill="#222" stroke="#222" stroke-width="0.12">−0.2</text>
<text x="73.9" y="632.1" font-family='"Liberation Sans", sans-serif' font-size="8.3" fill="#222" stroke="#222" stroke-width="0.12">−log10(Pvalue)</text>
<rect x="75.2" y="640.30" width="11.9" height="11.83" fill="#fff" stroke="#222" stroke-width="0.8"/>
<circle cx="81.15" cy="646.20" r="0.45" fill="#000"/>
<text x="91.3" y="648.80" font-family='"Liberation Sans", sans-serif' font-size="6.8" fill="#222" stroke="#222" stroke-width="0.12">1</text>
<rect x="75.2" y="652.13" width="11.9" height="11.83" fill="#fff" stroke="#222" stroke-width="0.8"/>
<circle cx="81.15" cy="658.03" r="1.9" fill="#000"/>
<text x="91.3" y="660.63" font-family='"Liberation Sans", sans-serif' font-size="6.8" fill="#222" stroke="#222" stroke-width="0.12">0.05</text>
<rect x="75.2" y="663.96" width="11.9" height="11.83" fill="#fff" stroke="#222" stroke-width="0.8"/>
<circle cx="81.15" cy="669.86" r="3.3" fill="#000"/>
<text x="91.3" y="672.46" font-family='"Liberation Sans", sans-serif' font-size="6.8" fill="#222" stroke="#222" stroke-width="0.12">1e−5</text>
<rect x="75.2" y="675.79" width="11.9" height="11.83" fill="#fff" stroke="#222" stroke-width="0.8"/>
<circle cx="81.15" cy="681.69" r="4.6" fill="#000"/>
<text x="91.3" y="684.29" font-family='"Liberation Sans", sans-serif' font-size="6.8" fill="#222" stroke="#222" stroke-width="0.12"><1e−10</text>
<rect x="48.20" y="735.50" width="34.59" height="32.00" fill="#edf1f9"/>
<rect x="81.79" y="735.50" width="34.59" height="32.00" fill="#a9bfe2"/>
<rect x="115.38" y="735.50" width="34.59" height="32.00" fill="#b3c6e4"/>
<rect x="148.97" y="735.50" width="34.59" height="32.00" fill="#93b1da"/>
<rect x="182.56" y="735.50" width="34.59" height="32.00" fill="#cad6ec"/>
<rect x="216.15" y="735.50" width="34.59" height="32.00" fill="#fbfcfe"/>
<rect x="249.74" y="735.50" width="34.59" height="32.00" fill="#b1c5e4"/>
<rect x="283.33" y="735.50" width="34.59" height="32.00" fill="#e1e7f4"/>
<rect x="316.92" y="735.50" width="34.59" height="32.00" fill="#9ab5dc"/>
<rect x="350.51" y="735.50" width="34.59" height="32.00" fill="#c6d4eb"/>
<rect x="384.10" y="735.50" width="34.59" height="32.00" fill="#a6bde0"/>
<rect x="417.69" y="735.50" width="34.59" height="32.00" fill="#e0e6f3"/>
<rect x="451.28" y="735.50" width="34.59" height="32.00" fill="#b0c4e3"/>
<rect x="484.87" y="735.50" width="34.59" height="32.00" fill="#d0daee"/>
<rect x="518.46" y="735.50" width="34.59" height="32.00" fill="#cdd8ed"/>
<rect x="552.05" y="735.50" width="34.59" height="32.00" fill="#80a9d5"/>
<rect x="585.64" y="735.50" width="33.59" height="32.00" fill="#a0b9de"/>
<rect x="48.20" y="766.50" width="34.59" height="32.00" fill="#b7c9e6"/>
<rect x="81.79" y="766.50" width="34.59" height="32.00" fill="#a9bfe2"/>
<rect x="115.38" y="766.50" width="34.59" height="32.00" fill="#b1c5e4"/>
<rect x="148.97" y="766.50" width="34.59" height="32.00" fill="#97b3db"/>
<rect x="182.56" y="766.50" width="34.59" height="32.00" fill="#c8d5eb"/>
<rect x="216.15" y="766.50" width="34.59" height="32.00" fill="#b9cbe6"/>
<rect x="249.74" y="766.50" width="34.59" height="32.00" fill="#b3c6e4"/>
<rect x="283.33" y="766.50" width="34.59" height="32.00" fill="#bfcee9"/>
<rect x="316.92" y="766.50" width="34.59" height="32.00" fill="#a0b9de"/>
<rect x="350.51" y="766.50" width="34.59" height="32.00" fill="#c5d3ea"/>
<rect x="384.10" y="766.50" width="34.59" height="32.00" fill="#b0c4e3"/>
<rect x="417.69" y="766.50" width="34.59" height="32.00" fill="#ccd7ec"/>
<rect x="451.28" y="766.50" width="34.59" height="32.00" fill="#d2dbef"/>
<rect x="484.87" y="766.50" width="34.59" height="32.00" fill="#b7c8e6"/>
<rect x="518.46" y="766.50" width="34.59" height="32.00" fill="#d0daee"/>
<rect x="552.05" y="766.50" width="34.59" height="32.00" fill="#8daed9"/>
<rect x="585.64" y="766.50" width="33.59" height="32.00" fill="#a3bbdf"/>
<rect x="48.20" y="797.50" width="34.59" height="32.00" fill="#9ab5dc"/>
<rect x="81.79" y="797.50" width="34.59" height="32.00" fill="#b7c8e6"/>
<rect x="115.38" y="797.50" width="34.59" height="32.00" fill="#93b0da"/>
<rect x="148.97" y="797.50" width="34.59" height="32.00" fill="#86a9d6"/>
<rect x="182.56" y="797.50" width="34.59" height="32.00" fill="#f0f3fa"/>
<rect x="216.15" y="797.50" width="34.59" height="32.00" fill="#abc1e2"/>
<rect x="249.74" y="797.50" width="34.59" height="32.00" fill="#aec3e3"/>
<rect x="283.33" y="797.50" width="34.59" height="32.00" fill="#b9cae7"/>
<rect x="316.92" y="797.50" width="34.59" height="32.00" fill="#96b3db"/>
<rect x="350.51" y="797.50" width="34.59" height="32.00" fill="#c9d5ec"/>
<rect x="384.10" y="797.50" width="34.59" height="32.00" fill="#aec3e3"/>
<rect x="417.69" y="797.50" width="34.59" height="32.00" fill="#d8e0f0"/>
<rect x="451.28" y="797.50" width="34.59" height="32.00" fill="#e9eef7"/>
<rect x="484.87" y="797.50" width="34.59" height="32.00" fill="#b3c6e4"/>
<rect x="518.46" y="797.50" width="34.59" height="32.00" fill="#dae1f1"/>
<rect x="552.05" y="797.50" width="34.59" height="32.00" fill="#8fafd9"/>
<rect x="585.64" y="797.50" width="33.59" height="32.00" fill="#b0c4e3"/>
<rect x="48.20" y="828.50" width="34.59" height="32.00" fill="#fdfdfe"/>
<rect x="81.79" y="828.50" width="34.59" height="32.00" fill="#98b4db"/>
<rect x="115.38" y="828.50" width="34.59" height="32.00" fill="#d8e0f0"/>
<rect x="148.97" y="828.50" width="34.59" height="32.00" fill="#88abd7"/>
<rect x="182.56" y="828.50" width="34.59" height="32.00" fill="#b3c6e5"/>
<rect x="216.15" y="828.50" width="34.59" height="32.00" fill="#ffffff"/>
<rect x="249.74" y="828.50" width="34.59" height="32.00" fill="#b0c4e3"/>
<rect x="283.33" y="828.50" width="34.59" height="32.00" fill="#d3dcef"/>
<rect x="316.92" y="828.50" width="34.59" height="32.00" fill="#97b3db"/>
<rect x="350.51" y="828.50" width="34.59" height="32.00" fill="#d3dcef"/>
<rect x="384.10" y="828.50" width="34.59" height="32.00" fill="#98b4db"/>
<rect x="417.69" y="828.50" width="34.59" height="32.00" fill="#ced8ed"/>
<rect x="451.28" y="828.50" width="34.59" height="32.00" fill="#cad6ec"/>
<rect x="484.87" y="828.50" width="34.59" height="32.00" fill="#c6d3ea"/>
<rect x="518.46" y="828.50" width="34.59" height="32.00" fill="#f0f3fa"/>
<rect x="552.05" y="828.50" width="34.59" height="32.00" fill="#77a5d3"/>
<rect x="585.64" y="828.50" width="33.59" height="32.00" fill="#8eaed9"/>
<rect x="48.20" y="859.50" width="34.59" height="31.00" fill="#b5c8e5"/>
<rect x="81.79" y="859.50" width="34.59" height="31.00" fill="#9cb6dc"/>
<rect x="115.38" y="859.50" width="34.59" height="31.00" fill="#aec3e3"/>
<rect x="148.97" y="859.50" width="34.59" height="31.00" fill="#5b9ece"/>
<rect x="182.56" y="859.50" width="34.59" height="31.00" fill="#aec3e3"/>
<rect x="216.15" y="859.50" width="34.59" height="31.00" fill="#c8d4eb"/>
<rect x="249.74" y="859.50" width="34.59" height="31.00" fill="#98b4db"/>
<rect x="283.33" y="859.50" width="34.59" height="31.00" fill="#afc4e3"/>
<rect x="316.92" y="859.50" width="34.59" height="31.00" fill="#8eaed9"/>
<rect x="350.51" y="859.50" width="34.59" height="31.00" fill="#bccce8"/>
<rect x="384.10" y="859.50" width="34.59" height="31.00" fill="#97b3db"/>
<rect x="417.69" y="859.50" width="34.59" height="31.00" fill="#c4d2ea"/>
<rect x="451.28" y="859.50" width="34.59" height="31.00" fill="#dde4f2"/>
<rect x="484.87" y="859.50" width="34.59" height="31.00" fill="#a8bfe1"/>
<rect x="518.46" y="859.50" width="34.59" height="31.00" fill="#c7d4eb"/>
<rect x="552.05" y="859.50" width="34.59" height="31.00" fill="#4f9ccd"/>
<rect x="585.64" y="859.50" width="33.59" height="31.00" fill="#8badd8"/>
<path d="M65.00 732.5V893.5M98.59 732.5V893.5M132.18 732.5V893.5M165.77 732.5V893.5M199.36 732.5V893.5M232.94 732.5V893.5M266.54 732.5V893.5M300.12 732.5V893.5M333.72 732.5V893.5M367.31 732.5V893.5M400.90 732.5V893.5M434.49 732.5V893.5M468.08 732.5V893.5M501.67 732.5V893.5M535.26 732.5V893.5M568.85 732.5V893.5M602.44 732.5V893.5" stroke="#ffffff" stroke-opacity="0.18" stroke-width="0.6"/>
<path d="M65.00 732.3V735.5M65.00 890.5V893.7M98.59 732.3V735.5M98.59 890.5V893.7M132.18 732.3V735.5M132.18 890.5V893.7M165.77 732.3V735.5M165.77 890.5V893.7M199.36 732.3V735.5M199.36 890.5V893.7M232.94 732.3V735.5M232.94 890.5V893.7M266.54 732.3V735.5M266.54 890.5V893.7M300.12 732.3V735.5M300.12 890.5V893.7M333.72 732.3V735.5M333.72 890.5V893.7M367.31 732.3V735.5M367.31 890.5V893.7M400.90 732.3V735.5M400.90 890.5V893.7M434.49 732.3V735.5M434.49 890.5V893.7M468.08 732.3V735.5M468.08 890.5V893.7M501.67 732.3V735.5M501.67 890.5V893.7M535.26 732.3V735.5M535.26 890.5V893.7M568.85 732.3V735.5M568.85 890.5V893.7M602.44 732.3V735.5M602.44 890.5V893.7M45.2 751.00H48.2M619.2 751.00h3M45.2 782.00H48.2M619.2 782.00h3M45.2 813.00H48.2M619.2 813.00h3M45.2 844.00H48.2M619.2 844.00h3M45.2 875.00H48.2M619.2 875.00h3" stroke="#e4e4e4" stroke-width="0.7"/>
<text x="98.59" y="754.20" text-anchor="middle" font-family='"Liberation Serif", serif' font-weight="bold" font-size="12.5" letter-spacing="0.6" fill="#2a2a2a">**</text>
<text x="132.18" y="754.20" text-anchor="middle" font-family='"Liberation Serif", serif' font-weight="bold" font-size="12.5" letter-spacing="0.6" fill="#2a2a2a">**</text>
<text x="165.77" y="754.20" text-anchor="middle" font-family='"Liberation Serif", serif' font-weight="bold" font-size="12.5" letter-spacing="0.6" fill="#2a2a2a">**</text>
<text x="199.36" y="754.20" text-anchor="middle" font-family='"Liberation Serif", serif' font-weight="bold" font-size="12.5" letter-spacing="0.6" fill="#2a2a2a">**</text>
<text x="266.54" y="754.20" text-anchor="middle" font-family='"Liberation Serif", serif' font-weight="bold" font-size="12.5" letter-spacing="0.6" fill="#2a2a2a">**</text>
<text x="300.12" y="754.20" text-anchor="middle" font-family='"Liberation Serif", serif' font-weight="bold" font-size="12.5" letter-spacing="0.6" fill="#2a2a2a">*</text>
<text x="333.72" y="754.20" text-anchor="middle" font-family='"Liberation Serif", serif' font-weight="bold" font-size="12.5" letter-spacing="0.6" fill="#2a2a2a">**</text>
<text x="367.31" y="754.20" text-anchor="middle" font-family='"Liberation Serif", serif' font-weight="bold" font-size="12.5" letter-spacing="0.6" fill="#2a2a2a">**</text>
<text x="400.90" y="754.20" text-anchor="middle" font-family='"Liberation Serif", serif' font-weight="bold" font-size="12.5" letter-spacing="0.6" fill="#2a2a2a">**</text>
<text x="434.49" y="754.20" text-anchor="middle" font-family='"Liberation Serif", serif' font-weight="bold" font-size="12.5" letter-spacing="0.6" fill="#2a2a2a">*</text>
<text x="468.08" y="754.20" text-anchor="middle" font-family='"Liberation Serif", serif' font-weight="bold" font-size="12.5" letter-spacing="0.6" fill="#2a2a2a">**</text>
<text x="501.67" y="754.20" text-anchor="middle" font-family='"Liberation Serif", serif' font-weight="bold" font-size="12.5" letter-spacing="0.6" fill="#2a2a2a">**</text>
<text x="535.26" y="754.20" text-anchor="middle" font-family='"Liberation Serif", serif' font-weight="bold" font-size="12.5" letter-spacing="0.6" fill="#2a2a2a">**</text>
<text x="568.85" y="754.20" text-anchor="middle" font-family='"Liberation Serif", serif' font-weight="bold" font-size="12.5" letter-spacing="0.6" fill="#2a2a2a">**</text>
<text x="602.44" y="754.20" text-anchor="middle" font-family='"Liberation Serif", serif' font-weight="bold" font-size="12.5" letter-spacing="0.6" fill="#2a2a2a">**</text>
<text x="65.00" y="785.20" text-anchor="middle" font-family='"Liberation Serif", serif' font-weight="bold" font-size="12.5" letter-spacing="0.6" fill="#2a2a2a">**</text>
<text x="98.59" y="785.20" text-anchor="middle" font-family='"Liberation Serif", serif' font-weight="bold" font-size="12.5" letter-spacing="0.6" fill="#2a2a2a">**</text>
<text x="132.18" y="785.20" text-anchor="middle" font-family='"Liberation Serif", serif' font-weight="bold" font-size="12.5" letter-spacing="0.6" fill="#2a2a2a">**</text>
<text x="165.77" y="785.20" text-anchor="middle" font-family='"Liberation Serif", serif' font-weight="bold" font-size="12.5" letter-spacing="0.6" fill="#2a2a2a">**</text>
<text x="199.36" y="785.20" text-anchor="middle" font-family='"Liberation Serif", serif' font-weight="bold" font-size="12.5" letter-spacing="0.6" fill="#2a2a2a">**</text>
<text x="232.94" y="785.20" text-anchor="middle" font-family='"Liberation Serif", serif' font-weight="bold" font-size="12.5" letter-spacing="0.6" fill="#2a2a2a">**</text>
<text x="266.54" y="785.20" text-anchor="middle" font-family='"Liberation Serif", serif' font-weight="bold" font-size="12.5" letter-spacing="0.6" fill="#2a2a2a">**</text>
<text x="300.12" y="785.20" text-anchor="middle" font-family='"Liberation Serif", serif' font-weight="bold" font-size="12.5" letter-spacing="0.6" fill="#2a2a2a">**</text>
<text x="333.72" y="785.20" text-anchor="middle" font-family='"Liberation Serif", serif' font-weight="bold" font-size="12.5" letter-spacing="0.6" fill="#2a2a2a">**</text>
<text x="367.31" y="785.20" text-anchor="middle" font-family='"Liberation Serif", serif' font-weight="bold" font-size="12.5" letter-spacing="0.6" fill="#2a2a2a">**</text>
<text x="400.90" y="785.20" text-anchor="middle" font-family='"Liberation Serif", serif' font-weight="bold" font-size="12.5" letter-spacing="0.6" fill="#2a2a2a">**</text>
<text x="434.49" y="785.20" text-anchor="middle" font-family='"Liberation Serif", serif' font-weight="bold" font-size="12.5" letter-spacing="0.6" fill="#2a2a2a">**</text>
<text x="468.08" y="785.20" text-anchor="middle" font-family='"Liberation Serif", serif' font-weight="bold" font-size="12.5" letter-spacing="0.6" fill="#2a2a2a">**</text>
<text x="501.67" y="785.20" text-anchor="middle" font-family='"Liberation Serif", serif' font-weight="bold" font-size="12.5" letter-spacing="0.6" fill="#2a2a2a">**</text>
<text x="535.26" y="785.20" text-anchor="middle" font-family='"Liberation Serif", serif' font-weight="bold" font-size="12.5" letter-spacing="0.6" fill="#2a2a2a">**</text>
<text x="568.85" y="785.20" text-anchor="middle" font-family='"Liberation Serif", serif' font-weight="bold" font-size="12.5" letter-spacing="0.6" fill="#2a2a2a">**</text>
<text x="602.44" y="785.20" text-anchor="middle" font-family='"Liberation Serif", serif' font-weight="bold" font-size="12.5" letter-spacing="0.6" fill="#2a2a2a">**</text>
<text x="65.00" y="816.20" text-anchor="middle" font-family='"Liberation Serif", serif' font-weight="bold" font-size="12.5" letter-spacing="0.6" fill="#2a2a2a">**</text>
<text x="98.59" y="816.20" text-anchor="middle" font-family='"Liberation Serif", serif' font-weight="bold" font-size="12.5" letter-spacing="0.6" fill="#2a2a2a">**</text>
<text x="132.18" y="816.20" text-anchor="middle" font-family='"Liberation Serif", serif' font-weight="bold" font-size="12.5" letter-spacing="0.6" fill="#2a2a2a">**</text>
<text x="165.77" y="816.20" text-anchor="middle" font-family='"Liberation Serif", serif' font-weight="bold" font-size="12.5" letter-spacing="0.6" fill="#2a2a2a">**</text>
<text x="232.94" y="816.20" text-anchor="middle" font-family='"Liberation Serif", serif' font-weight="bold" font-size="12.5" letter-spacing="0.6" fill="#2a2a2a">**</text>
<text x="266.54" y="816.20" text-anchor="middle" font-family='"Liberation Serif", serif' font-weight="bold" font-size="12.5" letter-spacing="0.6" fill="#2a2a2a">**</text>
<text x="300.12" y="816.20" text-anchor="middle" font-family='"Liberation Serif", serif' font-weight="bold" font-size="12.5" letter-spacing="0.6" fill="#2a2a2a">**</text>
<text x="333.72" y="816.20" text-anchor="middle" font-family='"Liberation Serif", serif' font-weight="bold" font-size="12.5" letter-spacing="0.6" fill="#2a2a2a">**</text>
<text x="367.31" y="816.20" text-anchor="middle" font-family='"Liberation Serif", serif' font-weight="bold" font-size="12.5" letter-spacing="0.6" fill="#2a2a2a">**</text>
<text x="400.90" y="816.20" text-anchor="middle" font-family='"Liberation Serif", serif' font-weight="bold" font-size="12.5" letter-spacing="0.6" fill="#2a2a2a">**</text>
<text x="434.49" y="816.20" text-anchor="middle" font-family='"Liberation Serif", serif' font-weight="bold" font-size="12.5" letter-spacing="0.6" fill="#2a2a2a">**</text>
<text x="501.67" y="816.20" text-anchor="middle" font-family='"Liberation Serif", serif' font-weight="bold" font-size="12.5" letter-spacing="0.6" fill="#2a2a2a">**</text>
<text x="535.26" y="816.20" text-anchor="middle" font-family='"Liberation Serif", serif' font-weight="bold" font-size="12.5" letter-spacing="0.6" fill="#2a2a2a">**</text>
<text x="568.85" y="816.20" text-anchor="middle" font-family='"Liberation Serif", serif' font-weight="bold" font-size="12.5" letter-spacing="0.6" fill="#2a2a2a">**</text>
<text x="602.44" y="816.20" text-anchor="middle" font-family='"Liberation Serif", serif' font-weight="bold" font-size="12.5" letter-spacing="0.6" fill="#2a2a2a">**</text>
<text x="98.59" y="847.20" text-anchor="middle" font-family='"Liberation Serif", serif' font-weight="bold" font-size="12.5" letter-spacing="0.6" fill="#2a2a2a">**</text>
<text x="132.18" y="847.20" text-anchor="middle" font-family='"Liberation Serif", serif' font-weight="bold" font-size="12.5" letter-spacing="0.6" fill="#2a2a2a">**</text>
<text x="165.77" y="847.20" text-anchor="middle" font-family='"Liberation Serif", serif' font-weight="bold" font-size="12.5" letter-spacing="0.6" fill="#2a2a2a">**</text>
<text x="199.36" y="847.20" text-anchor="middle" font-family='"Liberation Serif", serif' font-weight="bold" font-size="12.5" letter-spacing="0.6" fill="#2a2a2a">**</text>
<text x="266.54" y="847.20" text-anchor="middle" font-family='"Liberation Serif", serif' font-weight="bold" font-size="12.5" letter-spacing="0.6" fill="#2a2a2a">**</text>
<text x="300.12" y="847.20" text-anchor="middle" font-family='"Liberation Serif", serif' font-weight="bold" font-size="12.5" letter-spacing="0.6" fill="#2a2a2a">**</text>
<text x="333.72" y="847.20" text-anchor="middle" font-family='"Liberation Serif", serif' font-weight="bold" font-size="12.5" letter-spacing="0.6" fill="#2a2a2a">**</text>
<text x="367.31" y="847.20" text-anchor="middle" font-family='"Liberation Serif", serif' font-weight="bold" font-size="12.5" letter-spacing="0.6" fill="#2a2a2a">**</text>
<text x="400.90" y="847.20" text-anchor="middle" font-family='"Liberation Serif", serif' font-weight="bold" font-size="12.5" letter-spacing="0.6" fill="#2a2a2a">**</text>
<text x="434.49" y="847.20" text-anchor="middle" font-family='"Liberation Serif", serif' font-weight="bold" font-size="12.5" letter-spacing="0.6" fill="#2a2a2a">**</text>
<text x="468.08" y="847.20" text-anchor="middle" font-family='"Liberation Serif", serif' font-weight="bold" font-size="12.5" letter-spacing="0.6" fill="#2a2a2a">**</text>
<text x="501.67" y="847.20" text-anchor="middle" font-family='"Liberation Serif", serif' font-weight="bold" font-size="12.5" letter-spacing="0.6" fill="#2a2a2a">**</text>
<text x="568.85" y="847.20" text-anchor="middle" font-family='"Liberation Serif", serif' font-weight="bold" font-size="12.5" letter-spacing="0.6" fill="#2a2a2a">**</text>
<text x="602.44" y="847.20" text-anchor="middle" font-family='"Liberation Serif", serif' font-weight="bold" font-size="12.5" letter-spacing="0.6" fill="#2a2a2a">**</text>
<text x="65.00" y="878.20" text-anchor="middle" font-family='"Liberation Serif", serif' font-weight="bold" font-size="12.5" letter-spacing="0.6" fill="#2a2a2a">**</text>
<text x="98.59" y="878.20" text-anchor="middle" font-family='"Liberation Serif", serif' font-weight="bold" font-size="12.5" letter-spacing="0.6" fill="#2a2a2a">**</text>
<text x="132.18" y="878.20" text-anchor="middle" font-family='"Liberation Serif", serif' font-weight="bold" font-size="12.5" letter-spacing="0.6" fill="#2a2a2a">**</text>
<text x="165.77" y="878.20" text-anchor="middle" font-family='"Liberation Serif", serif' font-weight="bold" font-size="12.5" letter-spacing="0.6" fill="#2a2a2a">**</text>
<text x="199.36" y="878.20" text-anchor="middle" font-family='"Liberation Serif", serif' font-weight="bold" font-size="12.5" letter-spacing="0.6" fill="#2a2a2a">**</text>
<text x="232.94" y="878.20" text-anchor="middle" font-family='"Liberation Serif", serif' font-weight="bold" font-size="12.5" letter-spacing="0.6" fill="#2a2a2a">**</text>
<text x="266.54" y="878.20" text-anchor="middle" font-family='"Liberation Serif", serif' font-weight="bold" font-size="12.5" letter-spacing="0.6" fill="#2a2a2a">**</text>
<text x="300.12" y="878.20" text-anchor="middle" font-family='"Liberation Serif", serif' font-weight="bold" font-size="12.5" letter-spacing="0.6" fill="#2a2a2a">**</text>
<text x="333.72" y="878.20" text-anchor="middle" font-family='"Liberation Serif", serif' font-weight="bold" font-size="12.5" letter-spacing="0.6" fill="#2a2a2a">**</text>
<text x="367.31" y="878.20" text-anchor="middle" font-family='"Liberation Serif", serif' font-weight="bold" font-size="12.5" letter-spacing="0.6" fill="#2a2a2a">**</text>
<text x="400.90" y="878.20" text-anchor="middle" font-family='"Liberation Serif", serif' font-weight="bold" font-size="12.5" letter-spacing="0.6" fill="#2a2a2a">**</text>
<text x="434.49" y="878.20" text-anchor="middle" font-family='"Liberation Serif", serif' font-weight="bold" font-size="12.5" letter-spacing="0.6" fill="#2a2a2a">**</text>
<text x="468.08" y="878.20" text-anchor="middle" font-family='"Liberation Serif", serif' font-weight="bold" font-size="12.5" letter-spacing="0.6" fill="#2a2a2a">*</text>
<text x="501.67" y="878.20" text-anchor="middle" font-family='"Liberation Serif", serif' font-weight="bold" font-size="12.5" letter-spacing="0.6" fill="#2a2a2a">**</text>
<text x="535.26" y="878.20" text-anchor="middle" font-family='"Liberation Serif", serif' font-weight="bold" font-size="12.5" letter-spacing="0.6" fill="#2a2a2a">**</text>
<text x="568.85" y="878.20" text-anchor="middle" font-family='"Liberation Serif", serif' font-weight="bold" font-size="12.5" letter-spacing="0.6" fill="#2a2a2a">**</text>
<text x="602.44" y="878.20" text-anchor="middle" font-family='"Liberation Serif", serif' font-weight="bold" font-size="12.5" letter-spacing="0.6" fill="#2a2a2a">**</text>
<text x="39.8" y="754.30" text-anchor="end" font-family='"Liberation Serif", serif' font-size="9.5" fill="#4d4d4d">YTHDF3</text>
<text x="39.8" y="785.30" text-anchor="end" font-family='"Liberation Serif", serif' font-size="9.5" fill="#4d4d4d">YTHDF2</text>
<text x="39.8" y="816.30" text-anchor="end" font-family='"Liberation Serif", serif' font-size="9.5" fill="#4d4d4d">YTHDF1</text>
<text x="39.8" y="847.30" text-anchor="end" font-family='"Liberation Serif", serif' font-size="9.5" fill="#4d4d4d">YTHDC2</text>
<text x="39.8" y="878.30" text-anchor="end" font-family='"Liberation Serif", serif' font-size="9.5" fill="#4d4d4d">YTHDC1</text>
<text x="69.20" y="903.50" text-anchor="end" transform="rotate(-45 69.20 903.50)" font-family='"Liberation Serif", serif' font-size="9.5" fill="#4d4d4d">BAX</text>
<text x="102.79" y="903.50" text-anchor="end" transform="rotate(-45 102.79 903.50)" font-family='"Liberation Serif", serif' font-size="9.5" fill="#4d4d4d">BCL2</text>
<text x="136.38" y="903.50" text-anchor="end" transform="rotate(-45 136.38 903.50)" font-family='"Liberation Serif", serif' font-size="9.5" fill="#4d4d4d">BCL2L1</text>
<text x="169.97" y="903.50" text-anchor="end" transform="rotate(-45 169.97 903.50)" font-family='"Liberation Serif", serif' font-size="9.5" fill="#4d4d4d">BCL2L2</text>
<text x="203.56" y="903.50" text-anchor="end" transform="rotate(-45 203.56 903.50)" font-family='"Liberation Serif", serif' font-size="9.5" fill="#4d4d4d">DLL1</text>
<text x="237.14" y="903.50" text-anchor="end" transform="rotate(-45 237.14 903.50)" font-family='"Liberation Serif", serif' font-size="9.5" fill="#4d4d4d">DLL3</text>
<text x="270.74" y="903.50" text-anchor="end" transform="rotate(-45 270.74 903.50)" font-family='"Liberation Serif", serif' font-size="9.5" fill="#4d4d4d">DLL4</text>
<text x="304.32" y="903.50" text-anchor="end" transform="rotate(-45 304.32 903.50)" font-family='"Liberation Serif", serif' font-size="9.5" fill="#4d4d4d">HES1</text>
<text x="337.92" y="903.50" text-anchor="end" transform="rotate(-45 337.92 903.50)" font-family='"Liberation Serif", serif' font-size="9.5" fill="#4d4d4d">JAG1</text>
<text x="371.50" y="903.50" text-anchor="end" transform="rotate(-45 371.50 903.50)" font-family='"Liberation Serif", serif' font-size="9.5" fill="#4d4d4d">JAG2</text>
<text x="405.10" y="903.50" text-anchor="end" transform="rotate(-45 405.10 903.50)" font-family='"Liberation Serif", serif' font-size="9.5" fill="#4d4d4d">NOTCH3</text>
<text x="438.69" y="903.50" text-anchor="end" transform="rotate(-45 438.69 903.50)" font-family='"Liberation Serif", serif' font-size="9.5" fill="#4d4d4d">SNAI1</text>
<text x="472.28" y="903.50" text-anchor="end" transform="rotate(-45 472.28 903.50)" font-family='"Liberation Serif", serif' font-size="9.5" fill="#4d4d4d">SNAI2</text>
<text x="505.87" y="903.50" text-anchor="end" transform="rotate(-45 505.87 903.50)" font-family='"Liberation Serif", serif' font-size="9.5" fill="#4d4d4d">TWIST1</text>
<text x="539.46" y="903.50" text-anchor="end" transform="rotate(-45 539.46 903.50)" font-family='"Liberation Serif", serif' font-size="9.5" fill="#4d4d4d">TWIST2</text>
<text x="573.05" y="903.50" text-anchor="end" transform="rotate(-45 573.05 903.50)" font-family='"Liberation Serif", serif' font-size="9.5" fill="#4d4d4d">ZEB1</text>
<text x="606.64" y="903.50" text-anchor="end" transform="rotate(-45 606.64 903.50)" font-family='"Liberation Serif", serif' font-size="9.5" fill="#4d4d4d">ZEB2</text>
<text x="641.5" y="748.7" font-family='"Liberation Serif", serif' font-size="10.3" fill="#1a1a1a">* p &lt; 0.05</text>
<text x="638.6" y="772.2" font-family='"Liberation Serif", serif' font-size="10.3" fill="#1a1a1a">** p &lt; 0.01</text>
<text x="638.5" y="795" font-family='"Liberation Serif", serif' font-size="10.6" fill="#1a1a1a">Correlation</text>
<rect x="638.4" y="801" width="17.3" height="84" fill="url(#gB)"/>
<path d="M638.4 819h3.4M652.3 819h3.4" stroke="#fff" stroke-width="0.8"/>
<text x="660.7" y="822.2" font-family='"Liberation Serif", serif' font-size="9" fill="#2a2a2a">0.6</text>
<path d="M638.4 841.1h3.4M652.3 841.1h3.4" stroke="#fff" stroke-width="0.8"/>
<text x="660.7" y="844.3" font-family='"Liberation Serif", serif' font-size="9" fill="#2a2a2a">0.4</text>
<path d="M638.4 863.4h3.4M652.3 863.4h3.4" stroke="#fff" stroke-width="0.8"/>
<text x="660.7" y="866.6" font-family='"Liberation Serif", serif' font-size="9" fill="#2a2a2a">0.2</text>
</svg>
</body></html>
